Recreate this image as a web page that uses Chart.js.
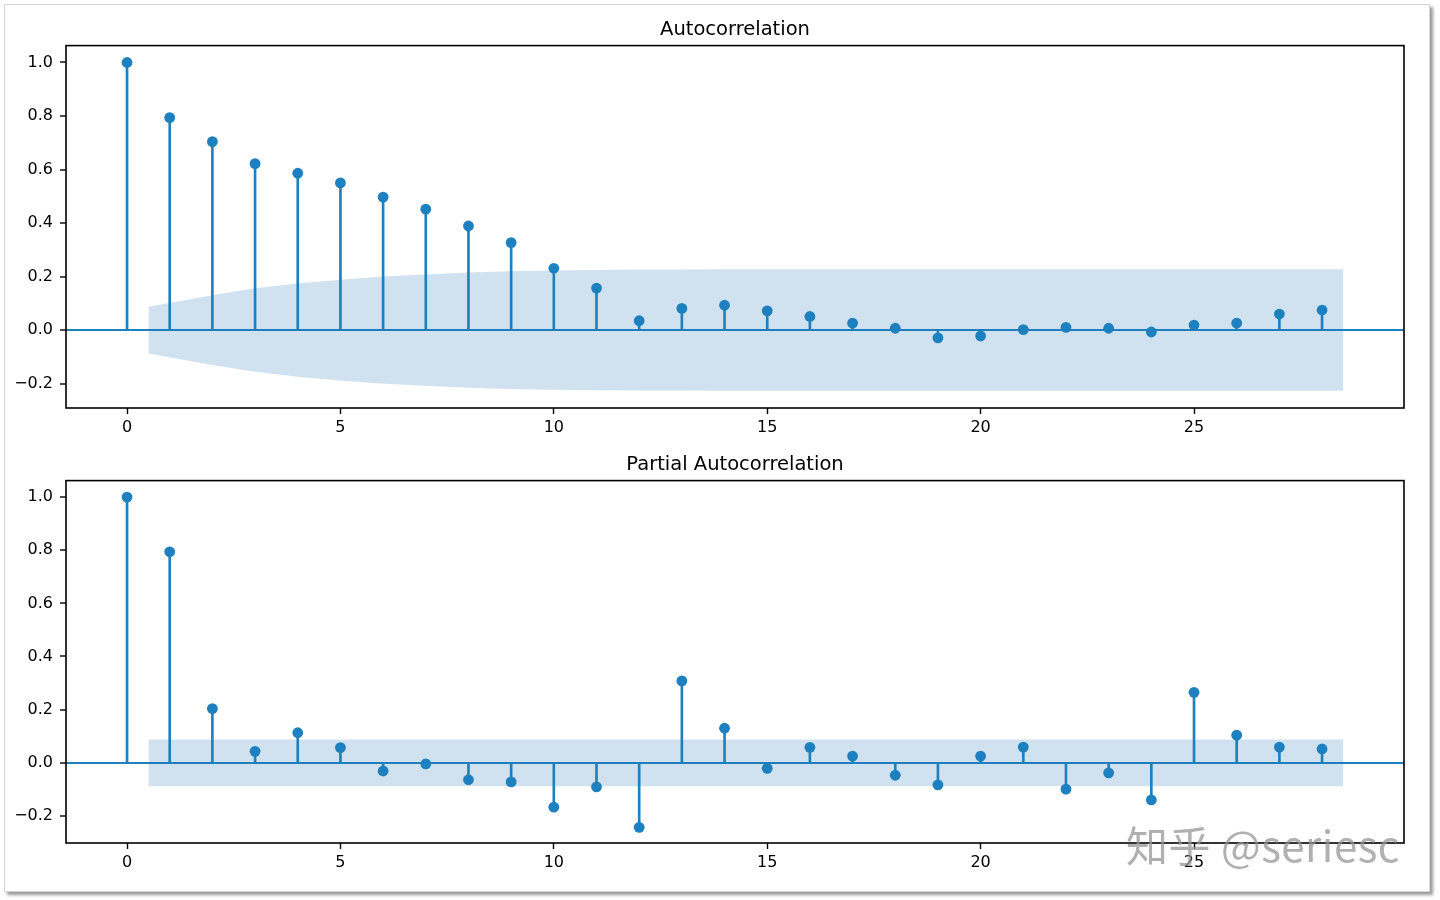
<!DOCTYPE html>
<html>
<head>
<meta charset="utf-8">
<script src="https://cdn.jsdelivr.net/npm/chart.js@4.4.0/dist/chart.umd.min.js"></script>
<style>
    html, body { margin: 0; padding: 0; background: #ffffff; }
    #page { position: relative; width: 1440px; height: 900px; overflow: hidden; }
    #frame {
        position: absolute; left: 4px; top: 4px; width: 1424px; height: 886px;
        border: 1px solid #d6d6d6; box-shadow: 3px 3px 3px #9a9a9a; background: #ffffff;
    }
    canvas { position: absolute; left: 0; }
    #acfCanvas { top: 0; }
    #pacfCanvas { top: 440px; }
    #watermark {
        position: absolute; left: 1126px; top: 813px;
        font-family: "Noto Sans CJK SC", "Noto Sans", sans-serif; font-size: 42px;
        color: rgba(150, 150, 150, 0.75); letter-spacing: 0.5px; white-space: nowrap;
    }
</style>
</head>
<body>
<div id="page">
    <div id="frame"></div>
    <canvas id="acfCanvas" width="1440" height="440"></canvas>
    <canvas id="pacfCanvas" width="1440" height="460"></canvas>
    <div id="watermark">知乎 @seriesc</div>
</div>
<script>
// ---- data ----
const lags = [0, 1, 2, 3, 4, 5, 6, 7, 8, 9, 10, 11, 12, 13, 14, 15, 16, 17, 18, 19, 20, 21, 22, 23, 24, 25, 26, 27, 28];

const acfValues = [1.0, 0.794, 0.704, 0.622, 0.586, 0.550, 0.497, 0.452, 0.389, 0.327, 0.231, 0.157,
    0.035, 0.081, 0.093, 0.072, 0.051, 0.026, 0.007, -0.029, -0.022, 0.002, 0.010, 0.007, -0.007,
    0.019, 0.026, 0.060, 0.075];

const pacfValues = [1.0, 0.794, 0.204, 0.043, 0.113, 0.057, -0.031, -0.004, -0.064, -0.072, -0.167, -0.091,
    -0.243, 0.308, 0.130, -0.021, 0.058, 0.025, -0.047, -0.083, 0.025, 0.059, -0.099, -0.038, -0.140,
    0.265, 0.104, 0.059, 0.052];

// confidence band: first and last lag pushed out by half a step
const acfBandLags = [0.5, 2, 3, 4, 5, 6, 7, 8, 9, 10, 11, 12, 13, 14, 15, 16, 17, 18, 19, 20, 21, 22, 23, 24, 25, 26, 27, 28.5];
const acfBandWidth = [0.087, 0.130, 0.156, 0.174, 0.188, 0.200, 0.208, 0.215, 0.220, 0.223, 0.225, 0.226,
    0.226, 0.227, 0.227, 0.227, 0.227, 0.227, 0.227, 0.227, 0.227, 0.227, 0.227, 0.227, 0.227, 0.227, 0.227, 0.227];

const pacfBandLags = [0.5, 28.5];
const pacfBandWidth = [0.088, 0.088];

const xTicks = [0, 5, 10, 15, 20, 25];
const yTicks = [-0.2, 0.0, 0.2, 0.4, 0.6, 0.8, 1.0];

const BLUE = '#1f80bf';
const BAND = 'rgba(31, 119, 180, 0.21)';
const FONT = 'DejaVu Sans';

// рамка вокруг области графика, как у matplotlib
const framePlugin = {
    id: 'axesFrame',
    afterDatasetsDraw(chart) {
        const a = chart.chartArea;
        const ctx = chart.ctx;
        ctx.save();
        ctx.strokeStyle = '#000000';
        ctx.lineWidth = 1.6;
        ctx.strokeRect(a.left, a.top, a.right - a.left, a.bottom - a.top);
        ctx.restore();
    }
};

function fmtTick(v) {
    const s = Math.abs(v) < 1e-9 ? '0.0' : v.toFixed(1);
    return s.replace('-', '\u2212');
}

function makePlot(canvasId, title, values, bandLags, bandWidth, yMin, yMax, pad) {
    const ctx = document.getElementById(canvasId);
    return new Chart(ctx, {
        type: 'line',
        data: {
            datasets: [
                {
                    type: 'line',
                    data: bandLags.map((x, i) => ({ x: x, y: bandWidth[i] })),
                    borderWidth: 0,
                    pointRadius: 0,
                    tension: 0,
                    fill: '+1',
                    backgroundColor: BAND,
                    order: 3
                },
                {
                    type: 'line',
                    data: bandLags.map((x, i) => ({ x: x, y: -bandWidth[i] })),
                    borderWidth: 0,
                    pointRadius: 0,
                    tension: 0,
                    fill: false,
                    order: 3
                },
                {
                    type: 'bar',
                    data: lags.map((x, i) => ({ x: x, y: values[i] })),
                    backgroundColor: BLUE,
                    barThickness: 2,
                    order: 2
                },
                {
                    type: 'scatter',
                    data: lags.map((x, i) => ({ x: x, y: values[i] })),
                    pointRadius: 5.4,
                    pointHoverRadius: 5.4,
                    pointBackgroundColor: BLUE,
                    pointBorderWidth: 0,
                    showLine: false,
                    order: 1
                }
            ]
        },
        options: {
            responsive: false,
            animation: false,
            devicePixelRatio: 1,
            layout: { padding: { left: 10, right: 36, top: 0, bottom: pad.bottom } },
            plugins: {
                legend: { display: false },
                tooltip: { enabled: false },
                title: {
                    display: true,
                    text: title,
                    fullSize: false,
                    color: '#000000',
                    font: { family: FONT, size: 19.5, weight: 'normal', lineHeight: 1.2 },
                    padding: { top: pad.titleTop, bottom: pad.titleBottom }
                }
            },
            scales: {
                x: {
                    type: 'linear',
                    min: -1.43,
                    max: 29.92,
                    offset: false,
                    afterBuildTicks: (scale) => { scale.ticks = xTicks.map(v => ({ value: v })); },
                    afterFit: (scale) => { scale.height = 32; },
                    border: { display: false },
                    grid: {
                        offset: false,
                        drawOnChartArea: false,
                        drawTicks: true,
                        tickLength: 6,
                        tickWidth: 1.4,
                        tickColor: '#000000'
                    },
                    ticks: {
                        color: '#000000',
                        padding: 4,
                        maxRotation: 0,
                        font: { family: FONT, size: 16 },
                        callback: (v) => String(v)
                    }
                },
                y: {
                    type: 'linear',
                    min: yMin,
                    max: yMax,
                    afterBuildTicks: (scale) => { scale.ticks = yTicks.map(v => ({ value: v })); },
                    afterFit: (scale) => { scale.width = 56; },
                    border: { display: false },
                    grid: {
                        drawOnChartArea: true,
                        drawTicks: true,
                        tickLength: 6,
                        tickWidth: 1.4,
                        tickColor: '#000000',
                        color: (c) => (c.tick && Math.abs(c.tick.value) < 1e-9) ? BLUE : 'rgba(0,0,0,0)',
                        lineWidth: (c) => (c.tick && Math.abs(c.tick.value) < 1e-9) ? 2 : 0
                    },
                    ticks: {
                        color: '#000000',
                        padding: 7,
                        font: { family: FONT, size: 16 },
                        callback: (v) => fmtTick(v)
                    }
                }
            }
        },
        plugins: [framePlugin]
    });
}

makePlot('acfCanvas', 'Autocorrelation', acfValues, acfBandLags, acfBandWidth, -0.291, 1.063,
    { bottom: 0, titleTop: 18, titleBottom: 4.2 });
makePlot('pacfCanvas', 'Partial Autocorrelation', pacfValues, pacfBandLags, pacfBandWidth, -0.302, 1.062,
    { bottom: 25, titleTop: 13, titleBottom: 4.2 });
</script>
</body>
</html>
